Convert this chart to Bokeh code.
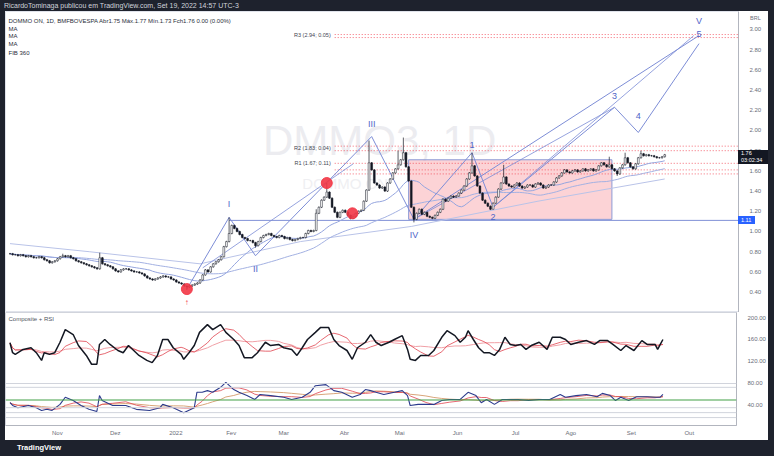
import numpy as np
import pandas as pd
from bokeh.plotting import figure
from bokeh.models import Range1d, Label, FixedTicker, NumeralTickFormatter, Div, ColumnDataSource, Span
from bokeh.layouts import column, row
from bokeh.embed import file_html
from bokeh.resources import INLINE
from bokeh.core.properties import value

FONT = "Liberation Sans"

# ---------------- data ----------------
first_day = "2021-10-06"
closes = [
    0.78, 0.77, 0.77, 0.76, 0.77, 0.76, 0.75, 0.76, 0.75, 0.74,
    0.74, 0.75, 0.74, 0.72, 0.71, 0.69, 0.70, 0.71, 0.73, 0.75,
    0.76, 0.75, 0.76, 0.74, 0.73, 0.71, 0.70, 0.69, 0.68, 0.67,
    0.66, 0.65, 0.64, 0.63, 0.74, 0.68, 0.67, 0.66, 0.65, 0.63,
    0.61, 0.60, 0.62, 0.63, 0.63, 0.62, 0.61, 0.60, 0.60, 0.59,
    0.58, 0.56, 0.54, 0.53, 0.52, 0.53, 0.54, 0.55, 0.56, 0.55,
    0.55, 0.53, 0.52, 0.50, 0.49, 0.48, 0.46, 0.45, 0.46, 0.47,
    0.48, 0.49, 0.52, 0.57, 0.62, 0.60, 0.65, 0.68, 0.70, 0.72,
    0.75, 0.85, 0.90, 0.98, 1.06, 1.03, 1.00, 0.97, 0.94, 0.93,
    0.91, 0.91, 0.89, 0.86, 0.90, 0.94, 0.96, 0.97, 0.98, 0.96,
    0.95, 0.94, 0.96, 0.95, 0.93, 0.94, 0.92, 0.91, 0.92, 0.93,
    0.94, 0.94, 0.98, 1.01, 1.00, 1.01, 1.18, 1.24, 1.31, 1.34,
    1.39, 1.33, 1.24, 1.19, 1.14, 1.19, 1.21, 1.19, 1.16, 1.13,
    1.15, 1.18, 1.20, 1.21, 1.30, 1.41, 1.68, 1.61, 1.48, 1.46,
    1.43, 1.44, 1.40, 1.48, 1.52, 1.58, 1.62, 1.66, 1.71, 1.78,
    1.64, 1.50, 1.24, 1.12, 1.18, 1.22, 1.17, 1.19, 1.15, 1.14,
    1.13, 1.16, 1.19, 1.22, 1.32, 1.30, 1.33, 1.35, 1.34, 1.35,
    1.38, 1.41, 1.45, 1.52, 1.58, 1.65, 1.55, 1.45, 1.38, 1.31,
    1.28, 1.25, 1.22, 1.28, 1.34, 1.42, 1.48, 1.54, 1.47, 1.45,
    1.44, 1.46, 1.48, 1.45, 1.43, 1.44, 1.46, 1.46, 1.44, 1.47,
    1.48, 1.46, 1.43, 1.44, 1.46, 1.46, 1.49, 1.53, 1.55, 1.58,
    1.61, 1.59, 1.58, 1.60, 1.61, 1.59, 1.60, 1.62, 1.60, 1.61,
    1.62, 1.60, 1.61, 1.65, 1.68, 1.66, 1.64, 1.66, 1.62, 1.60,
    1.57, 1.63, 1.66, 1.73, 1.68, 1.64, 1.62, 1.67, 1.73, 1.77,
    1.75, 1.76, 1.75, 1.75, 1.74, 1.73, 1.73, 1.74, 1.76,
]
spike_high = {20: 0.78, 34: 0.79, 83: 1.14, 116: 1.22, 120: 1.48, 136: 1.90,
              147: 1.80, 149: 1.93, 175: 1.78, 187: 1.66, 227: 1.74, 233: 1.78, 239: 1.80}
spike_low = {67: 0.42, 93: 0.84, 129: 1.12, 153: 1.09, 183: 1.22, 230: 1.55}

slow_ma_bar = [0, 30, 72, 110, 152, 200, 248]
slow_ma_val = [0.88, 0.80, 0.68, 0.90, 1.05, 1.30, 1.52]

main_wave_bar = [67, 83, 93, 137, 153, 261]
main_wave_val = [0.43, 1.14, 0.76, 1.94, 1.12, 2.94]
sub_wave_bar = [153, 175, 183, 229, 238, 261]
sub_wave_val = [1.12, 1.78, 1.24, 2.23, 1.98, 2.86]
channel_bar = [[73, 130], [153, 229], [183, 259]]
channel_val = [[0.64, 1.67], [1.12, 2.23], [1.24, 2.94]]

wave_lbl = ["I", "II", "III", "IV", "V", "1", "2", "3", "4", "5"]
wave_lbl_bar = [83, 93, 137, 153, 261, 175, 183, 229, 238, 261]
wave_lbl_val = [1.27, 0.63, 2.06, 0.97, 3.08, 1.86, 1.14, 2.34, 2.14, 2.96]

dot_bar = [67, 120, 129.7]
dot_val = [0.43, 1.48, 1.18]

box_bar = [151, 228]
box_val = [1.12, 1.71]
support_level = 1.11
support_from = 83

pivot_levels = [2.95, 2.92, 1.845, 1.80, 1.675, 1.61, 1.57]
pivot_from = 123
pivot_names = ["R3 (2.94; 0.05)", "R2 (1.83; 0.04)", "R1 (1.67; 0.11)"]
pivot_name_val = [2.945, 1.83, 1.68]

price_ticks = [0.4, 0.6, 0.8, 1.0, 1.2, 1.4, 1.6, 1.8, 2.0, 2.2, 2.4, 2.6, 2.8, 3.0]
osc_ticks = [40, 80, 120, 160, 200]
osc_levels = [80, 73, 36, 27, 18]
osc_mid = 50
month_names = {1: "2022", 2: "Fev", 3: "Mar", 4: "Abr", 5: "Mai", 6: "Jun", 7: "Jul",
               8: "Ago", 9: "Set", 10: "Out", 11: "Nov", 12: "Dez"}
countdown = "03:02:34"

comp_bar = [0, 1, 2, 5, 8, 10, 12, 13, 15, 17, 19, 21, 24, 26, 29, 31, 33, 34, 36, 38,
            41, 43, 45, 47, 49, 52, 54, 56, 58, 60, 62, 65, 66, 68, 70, 72, 75, 77, 80, 82,
            85, 87, 89, 92, 94, 97, 99, 102, 104, 107, 109, 111, 113, 116, 118, 121, 123, 125, 128, 130,
            132, 135, 137, 139, 141, 144, 146, 149, 151, 152, 154, 156, 159, 161, 164, 166, 169, 171, 173, 174,
            176, 178, 180, 182, 184, 186, 188, 190, 192, 194, 196, 198, 201, 204, 206, 209, 211, 213, 216, 219,
            222, 224, 227, 229, 232, 234, 237, 240, 242, 245, 246, 247, 248]
comp_val = [154, 136, 133, 142, 145, 136, 122, 136, 133, 136, 155, 178, 169, 149, 131, 115, 115, 151, 160, 151,
            140, 136, 149, 140, 131, 122, 118, 131, 160, 160, 145, 133, 124, 136, 149, 173, 187, 178, 187, 173,
            160, 149, 127, 127, 136, 155, 149, 151, 145, 142, 131, 145, 160, 173, 182, 182, 160, 149, 140, 124,
            145, 155, 169, 155, 149, 155, 160, 167, 142, 124, 122, 131, 131, 140, 164, 176, 167, 155, 164, 176,
            160, 145, 136, 136, 131, 142, 164, 151, 149, 151, 142, 149, 155, 142, 164, 164, 160, 151, 155, 158,
            151, 158, 158, 151, 140, 149, 140, 158, 151, 151, 142, 151, 160]

rsi_bar = [0, 1, 3, 7, 10, 12, 14, 16, 19, 21, 24, 27, 30, 33, 34, 35, 39, 44, 48, 53,
           57, 58, 62, 66, 70, 71, 73, 75, 77, 80, 82, 85, 87, 90, 93, 95, 99, 104, 107, 111,
           114, 116, 120, 123, 126, 130, 133, 135, 137, 139, 142, 146, 149, 151, 152, 155, 158, 161, 164, 167,
           171, 174, 177, 179, 181, 184, 187, 190, 193, 197, 201, 205, 209, 211, 215, 219, 223, 225, 228, 230,
           232, 235, 238, 242, 245, 247, 248]
rsi_val = [45, 40, 36, 40, 36, 31, 33, 31, 42, 55, 49, 40, 33, 29, 58, 49, 40, 40, 33, 31,
           36, 42, 36, 27, 36, 64, 64, 67, 64, 73, 82, 69, 64, 58, 51, 60, 58, 55, 51, 55,
           64, 76, 78, 67, 64, 55, 60, 69, 67, 64, 60, 64, 67, 58, 40, 42, 42, 42, 49, 51,
           51, 64, 58, 45, 51, 42, 51, 51, 51, 49, 51, 51, 60, 55, 58, 60, 56, 62, 58, 49,
           55, 49, 56, 56, 55, 55, 60]

# ---------------- derived ----------------
dates = pd.bdate_range(first_day, periods=280)
n = len(closes)
bars = np.arange(n)
opens = [closes[0]] + closes[:-1]
highs = [spike_high.get(i, max(o, c) + 0.008) for i, (o, c) in enumerate(zip(opens, closes))]
lows = [spike_low.get(i, min(o, c) - 0.008) for i, (o, c) in enumerate(zip(opens, closes))]
ink = "#131722"
candles = ColumnDataSource(dict(
    x=bars, h=highs, l=lows,
    top=[max(o, c) for o, c in zip(opens, closes)],
    bottom=[min(o, c) for o, c in zip(opens, closes)],
    fill=["#ffffff" if c >= o else ink for o, c in zip(opens, closes)],
))
cs = pd.Series(closes)
ma_fast = cs.rolling(20, min_periods=1).mean()
ma_mid = cs.rolling(50, min_periods=1).mean()

month_ticks = [i for i in range(1, len(dates)) if dates[i].month != dates[i - 1].month]
month_labels = {i: month_names[dates[i].month] for i in month_ticks}

# ---------------- geometry ----------------
PAGE_W = 774
LEFT_W, RIGHT_W = 5, 6
FIG_W = PAGE_W - LEFT_W - RIGHT_W
HEAD_H, PRICE_H, OSC_H, FOOT_H = 11, 301, 128, 16
AXIS_W = 30
FRAME = "#1e222d"
xr = Range1d(-1.70, 275.95)
yr = Range1d(0.198, 3.178)
wave_col = "#7d8dd6"
lbl_col = "#4f63c7"

# ---------------- price pane ----------------
p = figure(width=FIG_W, height=PRICE_H, x_range=xr, y_range=yr,
           y_axis_location="right", x_axis_location=None, toolbar_location=None,
           output_backend="svg", min_border_left=0, min_border_right=AXIS_W,
           min_border_top=0, min_border_bottom=0)
p.grid.visible = False
p.outline_line_color = "#e0e3eb"
ya = p.yaxis[0]
ya.ticker = FixedTicker(ticks=price_ticks)
ya.formatter = NumeralTickFormatter(format="0.00")
ya.major_label_text_font_size = "6px"
ya.major_label_text_font = FONT
ya.major_label_text_color = "#6a6d78"
ya.major_tick_line_color = None
ya.minor_tick_line_color = None
ya.major_tick_out = 0
ya.major_label_standoff = 11
ya.axis_line_color = "#b2b5be"

p.add_layout(Label(x=140, y=1.90, text="DMMO3, 1D", text_align="center", text_baseline="middle",
                   text_font_size="42px", text_font=FONT, text_color="#ececf0", level="image"))
p.add_layout(Label(x=127, y=1.475, text="DOMMO ON", text_align="center", text_baseline="middle",
                   text_font_size="15px", text_font=FONT, text_color="#efeff2", level="image"))

p.quad(left=box_bar[0], right=box_bar[1], bottom=box_val[0], top=box_val[1],
       fill_color="#f23645", fill_alpha=0.22, line_color="#8c9ad6", line_width=1)
p.segment(x0=support_from, y0=support_level, x1=xr.end + 2, y1=support_level,
          line_color="#8090d6", line_width=1)

for lv in pivot_levels:
    p.segment(x0=pivot_from, y0=lv, x1=xr.end + 2, y1=lv, line_color="#f23645",
              line_alpha=0.75, line_width=1, line_dash="1 2")
p.text(x=[pivot_from - 1.5] * 3, y=pivot_name_val, text=pivot_names, text_align="right",
       text_baseline="middle", text_font_size="5.5px", text_font=value(FONT), text_color="#434651")

p.line(slow_ma_bar, slow_ma_val, line_color="#b9c3e8", line_width=1)
p.line(bars, ma_mid, line_color="#a3b1e2", line_width=1)
p.line(bars, ma_fast, line_color="#95a5de", line_width=1)

for xb, yv in zip(channel_bar, channel_val):
    p.line(xb, yv, line_color=wave_col, line_width=0.9, line_alpha=0.9)
p.line(main_wave_bar, main_wave_val, line_color=wave_col, line_width=1)
p.line(sub_wave_bar, sub_wave_val, line_color=wave_col, line_width=1)

p.segment(x0="x", y0="l", x1="x", y1="h", source=candles, line_color=ink, line_width=0.7)
p.vbar(x="x", width=0.68, top="top", bottom="bottom", source=candles,
       fill_color="fill", line_color=ink, line_width=0.5)

p.scatter(dot_bar, dot_val, size=11, color="#f23645", alpha=0.9)
p.text(x=[67], y=[0.30], text=["↑"], text_align="center", text_baseline="middle",
       text_font_size="8px", text_font=value(FONT), text_color="#f23645")
p.text(x=wave_lbl_bar, y=wave_lbl_val, text=wave_lbl, text_align="center",
       text_baseline="middle", text_font_size="9px", text_font=value(FONT), text_color=lbl_col)

legend_lines = ["DOMMO ON, 1D, BMFBOVESPA  Abr1.75  Máx.1.77  Mín.1.73  Fch1.76  0.00 (0.00%)",
                "MA", "MA", "MA", "FIB 360"]
for t, yy in zip(legend_lines, [292, 284, 277, 269, 260]):
    p.add_layout(Label(x=3, y=yy, x_units="screen", y_units="screen", text=t,
                       text_font_size="6px", text_font=FONT, text_color="#2a2e39",
                       text_baseline="middle"))

# ---------------- oscillator pane ----------------
r = figure(width=FIG_W, height=OSC_H, x_range=xr, y_range=Range1d(3.6, 209.1),
           y_axis_location="right", toolbar_location=None, output_backend="svg",
           min_border_left=0, min_border_right=AXIS_W, min_border_top=0, min_border_bottom=15)
r.grid.visible = False
r.outline_line_color = "#d1d4dc"
ra = r.yaxis[0]
ra.ticker = FixedTicker(ticks=osc_ticks)
ra.formatter = NumeralTickFormatter(format="0.00")
xa = r.xaxis[0]
xa.ticker = FixedTicker(ticks=month_ticks)
xa.major_label_overrides = month_labels
for ax in (ra, xa):
    ax.major_label_text_font_size = "6px"
    ax.major_label_text_font = FONT
    ax.major_label_text_color = "#6a6d78"
    ax.major_tick_line_color = None
    ax.minor_tick_line_color = None
    ax.major_tick_out = 0
    ax.axis_line_color = "#b2b5be"
ra.major_label_standoff = 11
xa.major_label_standoff = 4

for lv in osc_levels:
    r.add_layout(Span(location=lv, dimension="width", line_color="#d1d4dc", line_width=1))
r.add_layout(Span(location=osc_mid, dimension="width", line_color="#43a047", line_width=1.2))

cser = pd.Series(comp_val)
r.line(comp_bar, cser.rolling(12, min_periods=1).mean(), line_color="#f0a0a6", line_width=1)
r.line(comp_bar, cser.rolling(5, min_periods=1).mean(), line_color="#e0434f", line_width=1, line_alpha=0.8)
r.line(comp_bar, comp_val, line_color=ink, line_width=1.5)

rser = pd.Series(rsi_val)
r.line(rsi_bar, rser.rolling(10, min_periods=1).mean(), line_color="#d9a57a", line_width=1)
r.line(rsi_bar, rser.rolling(4, min_periods=1).mean(), line_color="#e0434f", line_width=1, line_alpha=0.8)
r.line(rsi_bar, rsi_val, line_color="#2b3a8c", line_width=1.1)

r.add_layout(Label(x=3, y=198, x_units="screen", text="Composite + RSI", text_font_size="6px",
                   text_font=FONT, text_color="#50535e", text_baseline="middle"))


# ---------------- frame pieces ----------------
def strip(w, h):
    return Div(text="", width=w, height=h, margin=0, styles={"background-color": FRAME})


header = Div(text="&nbsp;&nbsp;RicardoTominaga publicou em TradingView.com, Set 19, 2022 14:57 UTC-3",
             width=PAGE_W, height=HEAD_H, margin=0,
             styles={"background-color": FRAME, "color": "#d1d4dc", "font-size": "7px",
                     "line-height": "11px", "font-family": FONT, "overflow": "hidden",
                     "white-space": "nowrap"})
footer = Div(text='<span style="padding-left:17px">TradingView</span>', width=PAGE_W, height=FOOT_H,
             margin=0,
             styles={"background-color": FRAME, "color": "#ffffff", "font-size": "7.5px",
                     "line-height": "15px", "font-family": FONT, "overflow": "hidden",
                     "white-space": "nowrap", "font-weight": "bold"})

# price-scale badges (last price, support level, currency) drawn over the axis strip
total_h = HEAD_H + PRICE_H + OSC_H + FOOT_H
px_per_unit = PRICE_H / (yr.end - yr.start)


def page_y(price):
    return HEAD_H + (yr.end - price) * px_per_unit - total_h


axis_left = LEFT_W + FIG_W - AXIS_W
badges = (
    f'<div style="position:absolute;left:{axis_left + 12}px;top:{page_y(3.10) - 4:.0f}px;'
    f'font-size:5.5px;color:#6a6d78;font-family:{FONT};">BRL</div>'
    f'<div style="position:absolute;left:{axis_left}px;top:{page_y(closes[-1]) - 4:.0f}px;'
    f'width:{AXIS_W}px;height:14px;background:#131722;color:#ffffff;font-size:5.5px;'
    f'line-height:7px;padding-left:3px;box-sizing:border-box;font-family:{FONT};">'
    f'{closes[-1]:.2f}<br>{countdown}</div>'
    f'<div style="position:absolute;left:{axis_left}px;top:{page_y(support_level) - 4:.0f}px;'
    f'width:17px;height:8px;background:#2962ff;color:#ffffff;font-size:5.5px;'
    f'line-height:8px;padding-left:3px;box-sizing:border-box;font-family:{FONT};">'
    f'{support_level:.2f}</div>'
)
overlay = Div(text=badges, width=PAGE_W, height=0, margin=0,
              styles={"overflow": "visible"},
              stylesheets=[":host{overflow:visible !important;} div{overflow:visible !important;}"])

layout = column(
    header,
    row(strip(LEFT_W, PRICE_H), p, strip(RIGHT_W, PRICE_H), spacing=0),
    row(strip(LEFT_W, OSC_H), r, strip(RIGHT_W, OSC_H), spacing=0),
    footer,
    overlay,
    spacing=0,
)
open("out.html", "w").write(file_html(layout, INLINE))
